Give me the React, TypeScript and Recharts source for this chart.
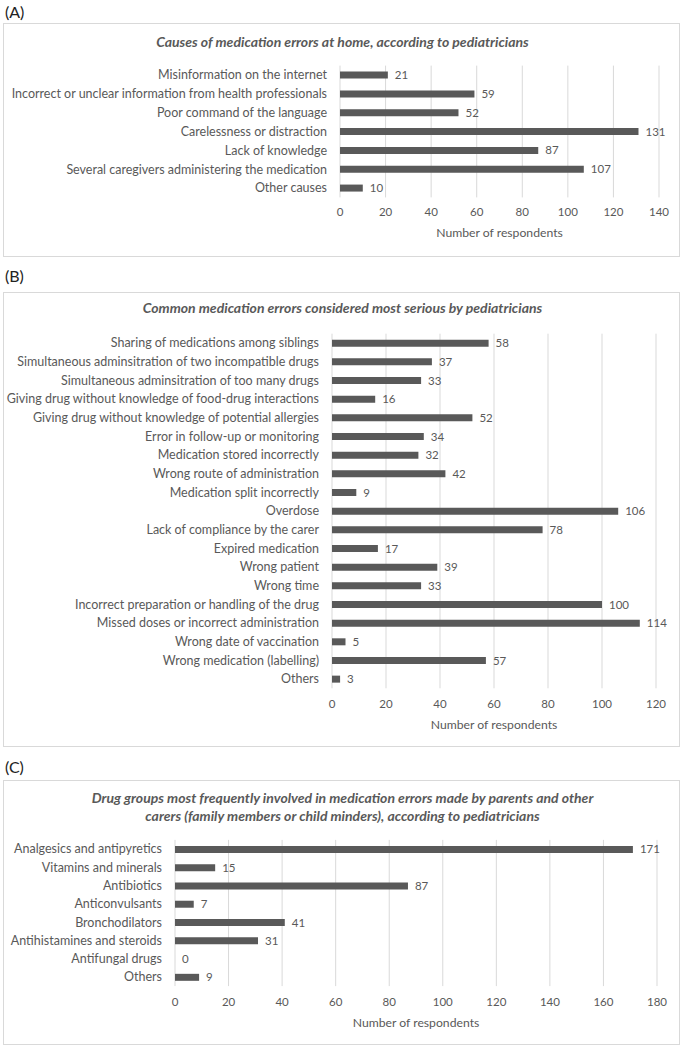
import { BarChart, Bar, XAxis, YAxis, CartesianGrid, LabelList } from "recharts";

// (A) causas
const causasNombres = [
    "Misinformation on the internet",
    "Incorrect or unclear information from health professionals",
    "Poor command of the language",
    "Carelessness or distraction",
    "Lack of knowledge",
    "Several caregivers administering the medication",
    "Other causes",
];
const causasValores = [21, 59, 52, 131, 87, 107, 10];
const causasTicks = [0, 20, 40, 60, 80, 100, 120, 140];

// (B) errores mas graves
const erroresNombres = [
    "Sharing of medications among siblings",
    "Simultaneous adminsitration of two incompatible drugs",
    "Simultaneous adminsitration of too many drugs",
    "Giving drug without knowledge of food-drug interactions",
    "Giving drug without knowledge of potential allergies",
    "Error in follow-up or monitoring",
    "Medication stored incorrectly",
    "Wrong route of administration",
    "Medication split incorrectly",
    "Overdose",
    "Lack of compliance by the carer",
    "Expired medication",
    "Wrong patient",
    "Wrong time",
    "Incorrect preparation or handling of the drug",
    "Missed doses or incorrect administration",
    "Wrong date of vaccination",
    "Wrong medication (labelling)",
    "Others",
];
const erroresValores = [58, 37, 33, 16, 52, 34, 32, 42, 9, 106, 78, 17, 39, 33, 100, 114, 5, 57, 3];
const erroresTicks = [0, 20, 40, 60, 80, 100, 120];

// (C) grupos de farmacos
const gruposNombres = [
    "Analgesics and antipyretics",
    "Vitamins and minerals",
    "Antibiotics",
    "Anticonvulsants",
    "Bronchodilators",
    "Antihistamines and steroids",
    "Antifungal drugs",
    "Others",
];
const gruposValores = [171, 15, 87, 7, 41, 31, 0, 9];
const gruposTicks = [0, 20, 40, 60, 80, 100, 120, 140, 160, 180];

const GRIS = "#595959";
const FUENTE = "Lato, 'Noto Sans', sans-serif";
const ANCHO = 685;

type Fila = { name: string; value: number };

function juntar(nombres: string[], valores: number[]): Fila[] {
    return nombres.map((name, i) => ({ name, value: valores[i] }));
}

function Panel(props: {
    tag: string;
    tagTop: number;
    boxTop: number;
    boxBottom: number;
    titulo: string[];
    tituloTop: number;
    datos: Fila[];
    ticks: number[];
    plotLeft: number;
    plotRight: number;
    plotTop: number;
    plotBottom: number;
    tickY: number;
    ejeY: number;
}) {
    const alto = props.boxBottom - props.boxTop;
    const max = props.ticks[props.ticks.length - 1];
    return (
        <>
            <div style={{
                position: "absolute", left: 5, top: props.tagTop - 10,
                fontFamily: FUENTE, fontSize: 16, color: "#222", lineHeight: "20px"
            }}>{props.tag}</div>
            <div style={{
                position: "absolute", left: 3, top: props.boxTop, width: 677, height: alto,
                border: "1px solid #d9d9d9", boxSizing: "border-box"
            }} />
            <div style={{
                position: "absolute", left: 0, width: ANCHO, top: props.tituloTop - 9,
                textAlign: "center", fontFamily: FUENTE, fontSize: 14, fontWeight: "bold",
                fontStyle: "italic", color: GRIS, lineHeight: "18px"
            }}>
                {props.titulo.map((t, i) => <div key={i}>{t}</div>)}
            </div>
            <div style={{ position: "absolute", left: 0, top: props.boxTop }}>
                <BarChart
                    width={ANCHO}
                    height={alto}
                    data={props.datos}
                    layout="vertical"
                    barCategoryGap={0}
                    margin={{ top: props.plotTop - props.boxTop, right: ANCHO - props.plotRight, bottom: 0, left: 0 }}
                >
                    <CartesianGrid horizontal={false} stroke="#d9d9d9" />
                    <XAxis
                        type="number"
                        domain={[0, max]}
                        ticks={props.ticks}
                        interval={0}
                        axisLine={false}
                        tickLine={false}
                        tickSize={0}
                        tickMargin={props.tickY - 4 - props.plotBottom}
                        height={props.boxBottom - props.plotBottom}
                        tick={{ fill: GRIS, fontSize: 11.5, fontFamily: FUENTE }}
                        label={{
                            value: "Number of respondents",
                            position: "insideBottom",
                            offset: props.boxBottom - (props.ejeY + 4.5),
                            fill: GRIS, fontSize: 12.2, fontFamily: FUENTE
                        }}
                    />
                    <YAxis
                        type="category"
                        dataKey="name"
                        width={props.plotLeft}
                        interval={0}
                        axisLine={false}
                        tickLine={false}
                        tickSize={0}
                        tickMargin={13}
                        tick={(p: any) => (
                            <text x={p.x} y={p.y} dy="0.35em" textAnchor="end"
                                fill={GRIS} fontSize={12.5} fontFamily={FUENTE}>
                                {p.payload.value}
                            </text>
                        )}
                    />
                    <Bar dataKey="value" fill={GRIS} barSize={7} minPointSize={0.01} isAnimationActive={false}>
                        <LabelList dataKey="value" position="right" offset={7}
                            fill={GRIS} fontSize={11.5} fontFamily={FUENTE} />
                    </Bar>
                </BarChart>
            </div>
        </>
    );
}

export default function App() {
    return (
        <div style={{ position: "absolute", left: 0, top: 0, width: ANCHO, height: 1049, background: "#fff" }}>
            <Panel
                tag="(A)" tagTop={12} boxTop={23} boxBottom={257}
                titulo={["Causes of medication errors at home, according to pediatricians"]} tituloTop={42}
                datos={juntar(causasNombres, causasValores)} ticks={causasTicks}
                plotLeft={340} plotRight={659} plotTop={65.6} plotBottom={197.4}
                tickY={212} ejeY={232}
            />
            <Panel
                tag="(B)" tagTop={276} boxTop={292} boxBottom={747}
                titulo={["Common medication errors considered most serious by pediatricians"]} tituloTop={308}
                datos={juntar(erroresNombres, erroresValores)} ticks={erroresTicks}
                plotLeft={332} plotRight={656} plotTop={333.7} plotBottom={688.3}
                tickY={704} ejeY={724}
            />
            <Panel
                tag="(C)" tagTop={767} boxTop={780} boxBottom={1045}
                titulo={[
                    "Drug groups most frequently involved in medication errors made by parents and other",
                    "carers (family members or child minders), according to pediatricians",
                ]} tituloTop={798}
                datos={juntar(gruposNombres, gruposValores)} ticks={gruposTicks}
                plotLeft={175} plotRight={657} plotTop={839.9} plotBottom={986.1}
                tickY={1002} ejeY={1022}
            />
        </div>
    );
}
